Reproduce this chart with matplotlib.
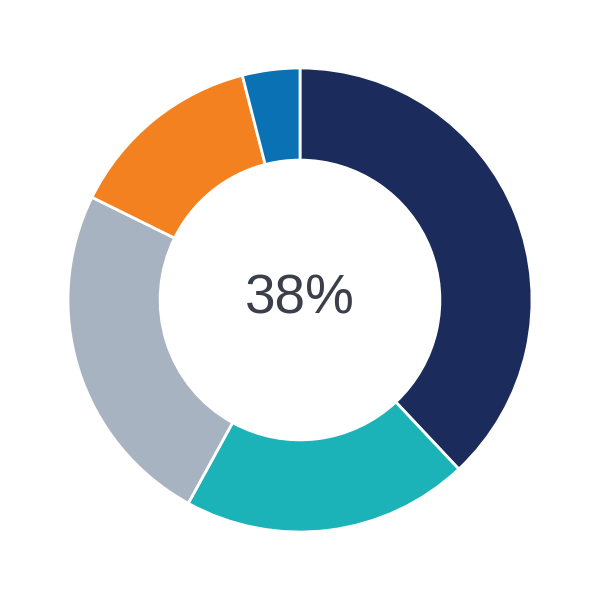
import matplotlib
matplotlib.use("Agg")
import matplotlib.pyplot as plt

labels = ["A", "B", "C", "D", "E"]
values = [38, 20, 24.3, 13.7, 4]
colors = ["#1b2b5b", "#1bb3b7", "#a8b3c1", "#f48120", "#0a71b4"]
center_label = "38%"

fig = plt.figure(figsize=(6, 6), dpi=100)
ax = fig.add_axes([0, 0, 1, 1])
ax.pie(values, colors=colors, startangle=90, counterclock=False,
       radius=1.0, wedgeprops=dict(width=0.397, edgecolor="white", linewidth=2))
lim = 300 / 232
ax.set_xlim(-lim, lim)
ax.set_ylim(-lim, lim)
ax.set_aspect("equal")
ax.axis("off")
ax.text(0, 0, center_label, ha="center", va="center", fontsize=39.5,
        color="#3a3f4a", family=["Liberation Sans", "DejaVu Sans"])
fig.savefig("out.png", dpi=100)
